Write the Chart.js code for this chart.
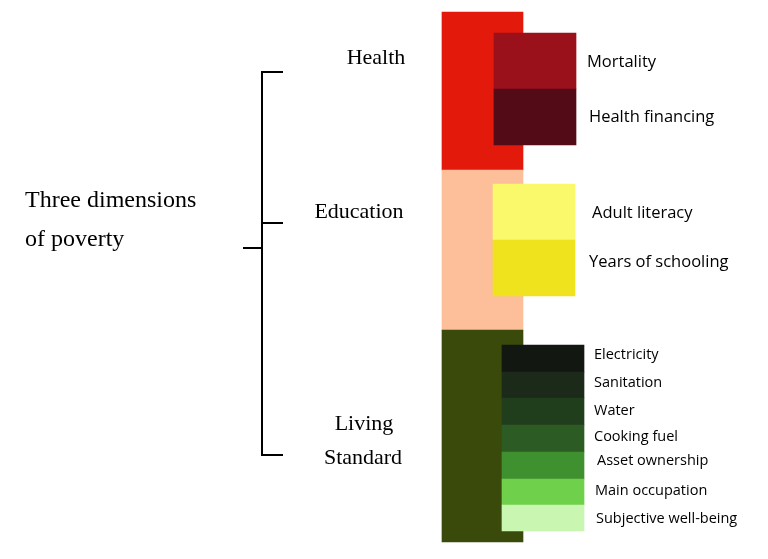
<!DOCTYPE html>
<html>
<head>
<meta charset="utf-8">
<script src="https://cdn.jsdelivr.net/npm/chart.js@4.4.1/dist/chart.umd.min.js"></script>
<style>
  html, body { margin: 0; padding: 0; background: #fff; }
  #wrap { width: 768px; height: 559px; }
</style>
</head>
<body>
<div id="wrap"><canvas id="povertyChart"></canvas></div>
<script>
// dimensions: vertical extent [top, bottom] on a 0..559 diagram axis
const dimensions = ["Health", "Education", "Living Standard"];
const dimensionRanges = [[12, 170], [170, 330], [330, 542]];
const dimensionColors = ["#e2190b", "#fdbe9a", "#3a4a0a"];

const indicators = ["Mortality", "Health financing", "Adult literacy", "Years of schooling",
  "Electricity", "Sanitation", "Water", "Cooking fuel", "Asset ownership", "Main occupation", "Subjective well-being"];
const indicatorRanges = [[33, 89], [89, 145], [184, 240], [240, 296],
  [345, 372], [372, 398], [398, 425], [425, 452], [452, 479], [479, 505], [505, 531]];
const indicatorColumn = [535, 535, 534, 534, 543, 543, 543, 543, 543, 543, 543];
const indicatorColors = ["#9b111b", "#530b17", "#faf86b", "#efe31d",
  "#121712", "#1b2a19", "#203d1c", "#2c5b23", "#3f902f", "#6fd04b", "#c9f6b1"];

const dimensionBars = dimensionRanges.map(r => ({ x: 482.5, y: r }));
const indicatorBars = indicatorRanges.map((r, i) => ({ x: indicatorColumn[i], y: r }));

const labelsPlugin = {
  id: "diagramText",
  afterDatasetsDraw(chart) {
    const ctx = chart.ctx;
    const xs = chart.scales.x, ys = chart.scales.y;
    const px = v => xs.getPixelForValue(v), py = v => ys.getPixelForValue(v);
    ctx.save();
    // bracket
    ctx.strokeStyle = "#000";
    ctx.lineWidth = 2;
    ctx.beginPath();
    ctx.moveTo(px(283), py(72)); ctx.lineTo(px(262), py(72)); ctx.lineTo(px(262), py(455)); ctx.lineTo(px(283), py(455));
    ctx.moveTo(px(262), py(223)); ctx.lineTo(px(283), py(223));
    ctx.moveTo(px(243), py(248)); ctx.lineTo(px(262), py(248));
    ctx.stroke();

    ctx.fillStyle = "#000";
    ctx.textBaseline = "middle";
    ctx.font = "24px 'Liberation Serif'";
    ctx.textAlign = "left";
    ctx.fillText("Three dimensions", px(25), py(201));
    ctx.fillText("of poverty", px(25), py(240));

    ctx.font = "22px 'Liberation Serif'";
    ctx.textAlign = "center";
    ctx.fillText(dimensions[0], px(376), py(58));
    ctx.fillText(dimensions[1], px(359), py(212));
    ctx.fillText("Living", px(364), py(424));
    ctx.fillText("Standard", px(363), py(458));

    ctx.textAlign = "left";
    const lx = [587, 589, 592, 589, 594, 594, 594, 594, 597, 595, 596];
    const ly = [62, 117, 213, 262, 355, 383, 411, 437, 461, 491, 519];
    indicators.forEach((t, i) => {
      ctx.font = (i < 4 ? "16.5px" : "14.5px") + " 'Open Sans'";
      ctx.fillText(t, px(lx[i]), py(ly[i]));
    });
    ctx.restore();
  }
};

new Chart(document.getElementById("povertyChart"), {
  type: "bar",
  data: {
    datasets: [
      { data: dimensionBars, backgroundColor: dimensionColors, barThickness: 81, borderWidth: 0, order: 2 },
      { data: indicatorBars, backgroundColor: indicatorColors, barThickness: 82, borderWidth: 0, order: 1 }
    ]
  },
  options: {
    responsive: true,
    maintainAspectRatio: false,
    animation: false,
    layout: { padding: 0 },
    plugins: { legend: { display: false }, tooltip: { enabled: false } },
    scales: {
      x: { type: "linear", min: 0, max: 768, display: false, offset: false },
      y: { type: "linear", min: 0, max: 559, reverse: true, display: false }
    },
    datasets: { bar: { grouped: false } }
  },
  plugins: [labelsPlugin]
});
</script>
</body>
</html>
